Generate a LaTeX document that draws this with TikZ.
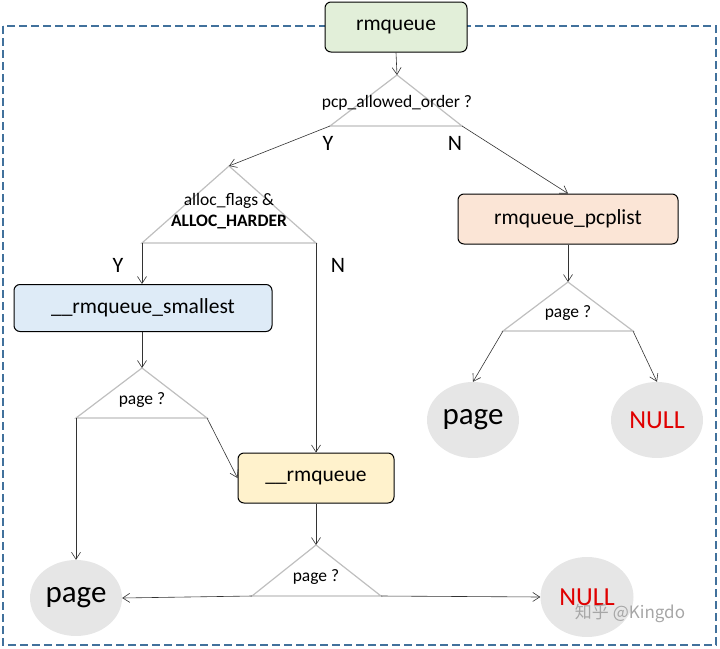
\documentclass[tikz,border=0pt]{standalone}
\usepackage{fontspec}
\setmainfont{Carlito}
\newfontfamily\cjkf{Noto Sans CJK SC}
\usetikzlibrary{arrows.meta,shapes.geometric}
\definecolor{frame}{HTML}{41719C}
\definecolor{tri}{HTML}{BFBFBF}
\definecolor{circ}{HTML}{E6E6E6}
\definecolor{nullred}{HTML}{E00000}
\begin{document}
\begin{tikzpicture}[x=1pt,y=-1pt,
  box/.style={draw=black,line width=1pt,rounded corners=6pt,minimum height=50pt,inner sep=0pt,font=\fontsize{21.5}{24}\selectfont},
  circ/.style={fill=circ,ellipse,inner sep=0pt},
  arr/.style={draw=black!80,line width=0.6pt,-{Straight Barb[length=7pt,width=9pt]}},
  triline/.style={draw=tri,line width=1.2pt},
  yn/.style={font=\fontsize{22}{24}\selectfont},
  tt/.style={font=\fontsize{17.5}{20}\selectfont}]
\useasboundingbox (0,0) rectangle (720,648);
\draw[frame,line width=2pt,dash pattern=on 8pt off 4pt] (3,26) rectangle (716,645);
% boxes
\node[box,fill={rgb,255:red,226;green,239;blue,217},minimum width=142pt] (rmq) at (396,27) {rmqueue};
\node[box,fill={rgb,255:red,251;green,229;blue,214},minimum width=220pt] (pcp) at (568,219) {rmqueue\_pcplist};
\node[box,fill={rgb,255:red,222;green,235;blue,247},minimum width=258pt,minimum height=47pt] (sm) at (143,308) {\_\_rmqueue\_smallest};
\node[box,fill={rgb,255:red,255;green,242;blue,204},minimum width=156pt] (rq) at (316,478) {\_\_rmqueue};
% triangles
\coordinate (t1a) at (397,75); \coordinate (t1l) at (330,126); \coordinate (t1r) at (462,126);
\coordinate (t2a) at (229,166); \coordinate (t2l) at (142,243); \coordinate (t2r) at (316,243);
\coordinate (t3a) at (142,368); \coordinate (t3l) at (76,418); \coordinate (t3r) at (207,418);
\coordinate (t4a) at (316,545); \coordinate (t4l) at (252,596); \coordinate (t4r) at (381,596);
\coordinate (t5a) at (568,282); \coordinate (t5l) at (503,331); \coordinate (t5r) at (633,331);
\foreach \t in {t1,t2,t3,t4,t5}{\draw[triline] (\t a) -- (\t l) -- (\t r) -- cycle;}
\node[tt] (q1) at (397,103) {pcp\_allowed\_order ?};
\node[tt,align=center] (q2) at (229,211) {alloc\_flags \&\\[1pt]\textbf{ALLOC\_HARDER}};
\node[tt] (q3) at (142,400) {page ?};
\node[tt] (q4) at (316,577) {page ?};
\node[tt] (q5) at (568,313) {page ?};
% circles
\node[circ,minimum width=92pt,minimum height=76pt,font=\fontsize{31}{34}\selectfont] (pg1) at (76,598) {page};
\node[circ,minimum width=93pt,minimum height=80pt,font=\fontsize{26}{28}\selectfont,text=nullred] (nl1) at (587,597) {NULL};
\node[circ,minimum width=92pt,minimum height=76pt,font=\fontsize{31}{34}\selectfont] (pg2) at (473,420) {page};
\node[circ,minimum width=92pt,minimum height=76pt,font=\fontsize{26}{28}\selectfont,text=nullred] (nl2) at (657,420) {NULL};
% labels
\node[yn] (y1) at (328,143) {Y};
\node[yn] (n1) at (455,143) {N};
\node[yn] (y2) at (118,265) {Y};
\node[yn] (n2) at (338,265) {N};
% arrows
\draw[arr] (rmq.south) -- (t1a);
\draw[arr] (t1l) -- (t2a);
\draw[arr] (t1r) -- (pcp.north);
\draw[arr] (t2l) -- (t2l |- sm.north);
\draw[arr] (t2r) -- (t2r |- rq.north);
\draw[arr] (sm.south -| t3a) -- (t3a);
\draw[arr] (t3l) -- (pg1.north);
\draw[arr] (t3r) -- (rq.west);
\draw[arr] (rq.south) -- (t4a);
\draw[arr] (t4l) -- (pg1.east);
\draw[arr] (t4r) -- (nl1.west);
\draw[arr] (pcp.south) -- (t5a);
\draw[arr] (t5l) -- (pg2.north);
\draw[arr] (t5r) -- (nl2.north);
\node[text=black!35,font=\cjkf\fontsize{17}{20}\selectfont] (wm) at (630,613) {知乎 @Kingdo};
\end{tikzpicture}
\end{document}
